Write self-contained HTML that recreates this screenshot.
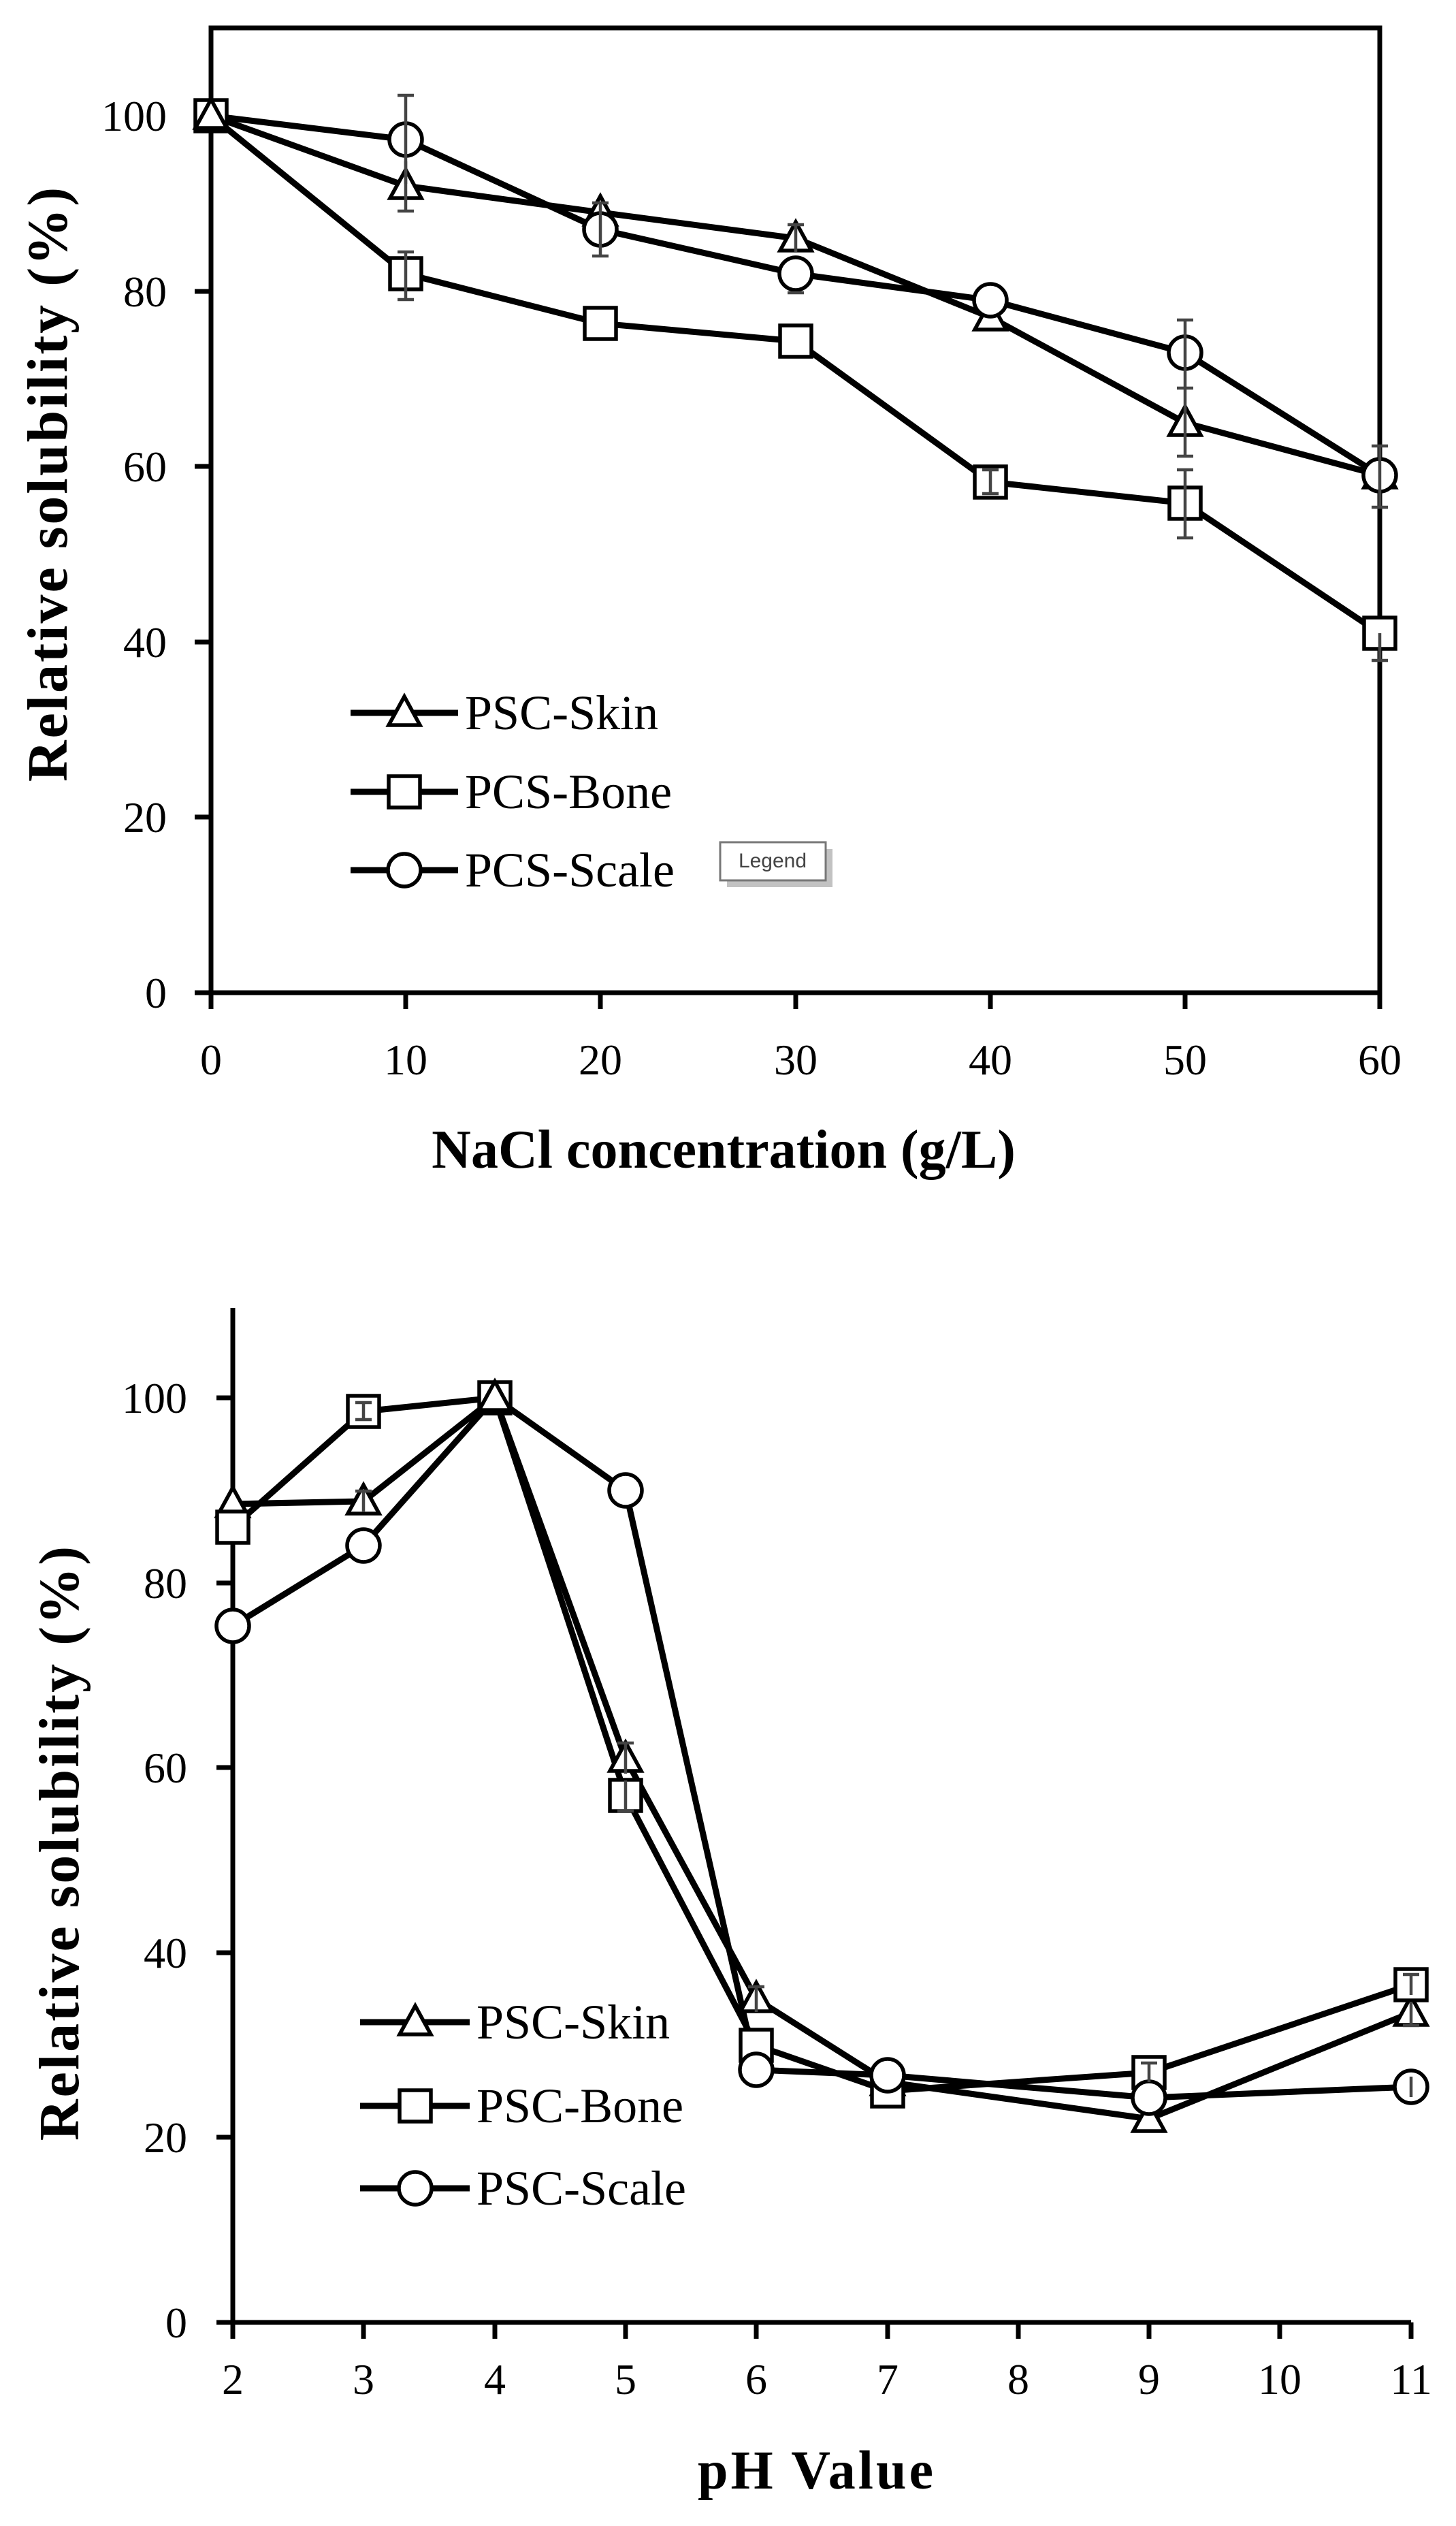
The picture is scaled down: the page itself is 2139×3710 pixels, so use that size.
<!DOCTYPE html>
<html><head><meta charset="utf-8"><style>
html,body{margin:0;padding:0;background:#fff}
svg{display:block}
.t{font-family:"Liberation Serif",serif;font-size:64px;fill:#000}
.b{font-family:"Liberation Serif",serif;font-size:80px;font-weight:bold;fill:#000}
.by{font-family:"Liberation Serif",serif;font-size:84px;font-weight:bold;fill:#000;letter-spacing:3px}
.l{font-family:"Liberation Serif",serif;font-size:72px;fill:#000}
.ln{fill:none;stroke:#000;stroke-width:9;stroke-linejoin:round}
.m{fill:#fff;stroke:#000;stroke-width:5.5}
.e{stroke:#444;stroke-width:4.5;fill:none}
</style></head><body>
<svg width="2139" height="3710" viewBox="0 0 2139 3710" xmlns="http://www.w3.org/2000/svg">
<defs>
<path id="tri" d="M0,-24 L23,18 L-23,18Z" class="m"/>
<rect id="sq" x="-23" y="-23" width="46" height="46" class="m"/>
<circle id="ci" r="24" class="m"/>
</defs>
<!-- Chart 1 -->
<rect x="310" y="41" width="1717" height="1417" fill="none" stroke="#000" stroke-width="7"/>
<g stroke="#000" stroke-width="7">
<line x1="286" y1="1458" x2="310" y2="1458"/><line x1="286" y1="1200" x2="310" y2="1200"/><line x1="286" y1="943" x2="310" y2="943"/><line x1="286" y1="685" x2="310" y2="685"/><line x1="286" y1="428" x2="310" y2="428"/><line x1="286" y1="170" x2="310" y2="170"/>
<line x1="310" y1="1458" x2="310" y2="1482"/><line x1="596" y1="1458" x2="596" y2="1482"/><line x1="882" y1="1458" x2="882" y2="1482"/><line x1="1169" y1="1458" x2="1169" y2="1482"/><line x1="1455" y1="1458" x2="1455" y2="1482"/><line x1="1741" y1="1458" x2="1741" y2="1482"/><line x1="2027" y1="1458" x2="2027" y2="1482"/>
</g>
<g class="t" text-anchor="end">
<text x="245" y="1480">0</text><text x="245" y="1222">20</text><text x="245" y="965">40</text><text x="245" y="707">60</text><text x="245" y="450">80</text><text x="245" y="192">100</text>
</g>
<g class="t" text-anchor="middle">
<text x="310" y="1578">0</text><text x="596" y="1578">10</text><text x="882" y="1578">20</text><text x="1169" y="1578">30</text><text x="1455" y="1578">40</text><text x="1741" y="1578">50</text><text x="2027" y="1578">60</text>
</g>
<text class="b" x="1063" y="1715" text-anchor="middle">NaCl concentration (g/L)</text>
<text class="by" x="0" y="0" text-anchor="middle" transform="translate(98,710) rotate(-90)">Relative solubility (%)</text>
<polyline class="ln" points="310,170 596,273 882,312 1169,350 1455,466 1741,621 2027,698"/>
<polyline class="ln" points="310,170 596,402 882,475 1169,501 1455,708 1741,739 2027,930"/>
<polyline class="ln" points="310,170 596,205 882,337 1169,402 1455,441 1741,518 2027,698"/>
<use href="#tri" x="596" y="273"/><use href="#tri" x="882" y="312"/><use href="#tri" x="1169" y="350"/><use href="#tri" x="1455" y="466"/><use href="#tri" x="1741" y="621"/><use href="#tri" x="2027" y="698"/>
<use href="#sq" x="310" y="170"/><use href="#sq" x="596" y="402"/><use href="#sq" x="882" y="475"/><use href="#sq" x="1169" y="501"/><use href="#sq" x="1455" y="708"/><use href="#sq" x="1741" y="739"/><use href="#sq" x="2027" y="930"/>
<use href="#ci" x="596" y="205"/><use href="#ci" x="882" y="337"/><use href="#ci" x="1169" y="402"/><use href="#ci" x="1455" y="441"/><use href="#ci" x="1741" y="518"/><use href="#ci" x="2027" y="698"/>
<use href="#tri" x="310" y="170"/>
<g class="e">
<path d="M596,140V270M584,140H608"/>
<path d="M596,237V310M584,310H608"/>
<path d="M596,370V440M584,370H608M584,440H608"/>
<path d="M882,298V376M870,298H894M870,376H894"/>
<path d="M1169,330V370M1157,330H1181"/>
<path d="M1169,420M1157,430H1181"/>
<path d="M1455,690V725M1443,690H1467M1443,725H1467"/>
<path d="M1741,470V570M1729,470H1753"/>
<path d="M1741,570V670M1729,570H1753M1729,670H1753"/>
<path d="M1741,690V790M1729,690H1753M1729,790H1753"/>
<path d="M2027,655V745M2015,655H2039M2015,745H2039"/>
<path d="M2027,930V970M2015,970H2039"/>
</g>
<!-- legend 1 -->
<line x1="515" y1="1047" x2="673" y2="1047" stroke="#000" stroke-width="9"/><use href="#tri" x="594" y="1047"/>
<line x1="515" y1="1163" x2="673" y2="1163" stroke="#000" stroke-width="9"/><use href="#sq" x="594" y="1163"/>
<line x1="515" y1="1278" x2="673" y2="1278" stroke="#000" stroke-width="9"/><use href="#ci" x="594" y="1278"/>
<text class="l" x="683" y="1071">PSC-Skin</text>
<text class="l" x="683" y="1187">PCS-Bone</text>
<text class="l" x="683" y="1302">PCS-Scale</text>
<rect x="1068" y="1247" width="155" height="56" fill="#999" opacity="0.6"/>
<rect x="1058" y="1237" width="155" height="56" fill="#fff" stroke="#777" stroke-width="3"/>
<text x="1135" y="1274" text-anchor="middle" font-family="Liberation Sans, sans-serif" font-size="30" fill="#444">Legend</text>

<!-- Chart 2 -->
<g stroke="#000" stroke-width="7">
<line x1="342" y1="1921" x2="342" y2="3411"/><line x1="318" y1="3411" x2="2073" y2="3411"/>
<line x1="318" y1="3139" x2="342" y2="3139"/><line x1="318" y1="2868" x2="342" y2="2868"/><line x1="318" y1="2596" x2="342" y2="2596"/><line x1="318" y1="2325" x2="342" y2="2325"/><line x1="318" y1="2053" x2="342" y2="2053"/>
<line x1="342" y1="3411" x2="342" y2="3435"/><line x1="534" y1="3411" x2="534" y2="3435"/><line x1="727" y1="3411" x2="727" y2="3435"/><line x1="919" y1="3411" x2="919" y2="3435"/><line x1="1111" y1="3411" x2="1111" y2="3435"/><line x1="1304" y1="3411" x2="1304" y2="3435"/><line x1="1496" y1="3411" x2="1496" y2="3435"/><line x1="1688" y1="3411" x2="1688" y2="3435"/><line x1="1880" y1="3411" x2="1880" y2="3435"/><line x1="2073" y1="3411" x2="2073" y2="3435"/>
</g>
<g class="t" text-anchor="end">
<text x="275" y="3433">0</text><text x="275" y="3161">20</text><text x="275" y="2890">40</text><text x="275" y="2618">60</text><text x="275" y="2347">80</text><text x="275" y="2075">100</text>
</g>
<g class="t" text-anchor="middle">
<text x="342" y="3516">2</text><text x="534" y="3516">3</text><text x="727" y="3516">4</text><text x="919" y="3516">5</text><text x="1111" y="3516">6</text><text x="1304" y="3516">7</text><text x="1496" y="3516">8</text><text x="1688" y="3516">9</text><text x="1880" y="3516">10</text><text x="2073" y="3516">11</text>
</g>
<text class="b" x="1200" y="3655" text-anchor="middle" style="letter-spacing:4px">pH Value</text>
<text class="by" x="0" y="0" text-anchor="middle" transform="translate(115,2706) rotate(-90)">Relative solubility (%)</text>
<polyline class="ln" points="342,2209 534,2205 727,2053 919,2583 1111,2936 1304,3058 1688,3112 2073,2956"/>
<polyline class="ln" points="342,2243 534,2073 727,2053 919,2637 1111,3004 1304,3071 1688,3044 2073,2915"/>
<polyline class="ln" points="342,2388 534,2270 727,2053 919,2189 1111,3040 1304,3048 1688,3081 2073,3065"/>
<use href="#tri" x="342" y="2209"/><use href="#tri" x="534" y="2205"/><use href="#tri" x="919" y="2583"/><use href="#tri" x="1111" y="2936"/><use href="#tri" x="1304" y="3058"/><use href="#tri" x="1688" y="3112"/><use href="#tri" x="2073" y="2956"/>
<use href="#sq" x="342" y="2243"/><use href="#sq" x="534" y="2073"/><use href="#sq" x="919" y="2637"/><use href="#sq" x="1111" y="3004"/><use href="#sq" x="1304" y="3071"/><use href="#sq" x="1688" y="3044"/><use href="#sq" x="2073" y="2915"/>
<use href="#ci" x="342" y="2388"/><use href="#ci" x="534" y="2270"/><use href="#ci" x="919" y="2189"/><use href="#ci" x="1111" y="3040"/><use href="#ci" x="1304" y="3048"/><use href="#ci" x="1688" y="3081"/><use href="#ci" x="2073" y="3065"/>
<use href="#sq" x="727" y="2053"/><use href="#tri" x="727" y="2053"/>
<g class="e">
<path d="M534,2060V2085M522,2060H546M522,2085H546"/>
<path d="M534,2190V2220M522,2190H546"/>
<path d="M919,2560V2605M907,2560H931"/>
<path d="M919,2615V2660M907,2660H931"/>
<path d="M1111,2918V2955M1099,2918H1123"/>
<path d="M1688,3030V3058M1676,3030H1700"/>
<path d="M2073,2900V2930M2061,2900H2085"/>
<path d="M2073,2940V2975M2061,2975H2085"/>
<path d="M2073,3050V3080"/>
</g>
<!-- legend 2 -->
<line x1="529" y1="2970" x2="690" y2="2970" stroke="#000" stroke-width="9"/><use href="#tri" x="610" y="2970"/>
<line x1="529" y1="3093" x2="690" y2="3093" stroke="#000" stroke-width="9"/><use href="#sq" x="610" y="3093"/>
<line x1="529" y1="3214" x2="690" y2="3214" stroke="#000" stroke-width="9"/><use href="#ci" x="610" y="3214"/>
<text class="l" x="700" y="2994">PSC-Skin</text>
<text class="l" x="700" y="3117">PSC-Bone</text>
<text class="l" x="700" y="3238">PSC-Scale</text>
</svg>
</body></html>
